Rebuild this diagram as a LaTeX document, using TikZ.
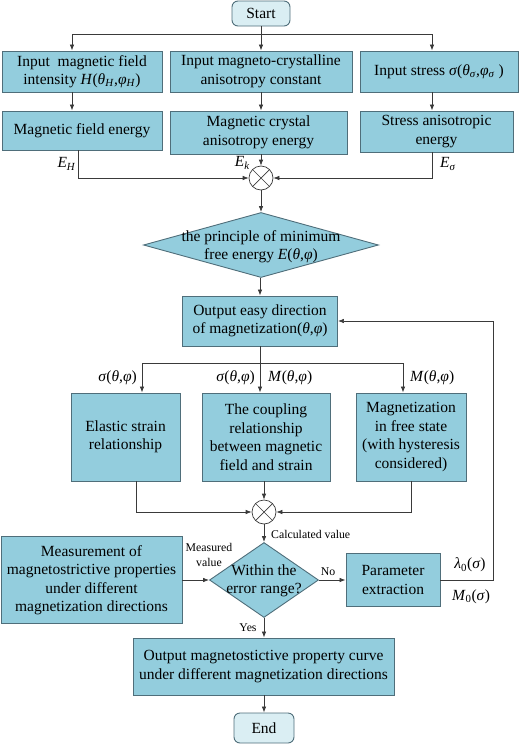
\documentclass[tikz,border=0pt]{standalone}
\usepackage{fontspec}
\setmainfont{Liberation Serif}
\usetikzlibrary{shapes.geometric,arrows.meta}
\definecolor{boxfill}{HTML}{93CDDD}
\definecolor{boxline}{HTML}{4F6E7A}
\definecolor{termfill}{HTML}{DAEEF3}
\definecolor{wire}{HTML}{3A3A3A}
\newcommand{\iv}[1]{\textit{#1}}
\begin{document}
\begin{tikzpicture}[x=1pt,y=-1pt,
  mainfont/.style={font=\fontsize{15.5}{18.5}\selectfont},
  smallfont/.style={font=\fontsize{11.8}{14.5}\selectfont},
  box/.style={draw=boxline, fill=boxfill, line width=0.9pt, inner sep=0pt, align=center, mainfont},
  term/.style={draw=boxline, fill=termfill, line width=0.9pt, inner sep=0pt, rounded corners=6pt, align=center, mainfont},
  dia/.style={diamond, draw=boxline, fill=boxfill, line width=0.9pt, inner sep=0pt},
  sz/.style 2 args={minimum width=#1pt, minimum height=#2pt},
  sum/.style={circle, draw=wire, fill=white, line width=0.7pt, minimum size=24pt, inner sep=0pt},
  wireline/.style={draw=wire, line width=0.7pt},
  arr/.style={wireline, -{Latex[length=6pt,width=4.5pt]}},
  lab/.style={inner sep=0pt, mainfont},
  slab/.style={inner sep=0pt, smallfont, align=center}]
\useasboundingbox (0,0) rectangle (520,744);

% nodes
\node[term, sz={58}{25}] (start) at (261,13.5) {Start};

\node[box, sz={160}{41}] (inA) at (82,71.5) {Input\ \ magnetic field\\intensity \iv{H}(\iv{θ}\textsubscript{\iv{H}},\iv{φ}\textsubscript{\iv{H}})};
\node[box, sz={182}{41}] (inB) at (261,71.5) {Input magneto-crystalline\\anisotropy constant};
\node[box, sz={158}{41}] (inC) at (439,71.5) {Input stress \iv{σ}(\iv{θ}\textsubscript{\iv{σ}},\iv{φ}\textsubscript{\iv{σ}}\ )};

\node[box, sz={160}{39}] (enA) at (82,130.5) {Magnetic field energy};
\node[box, sz={177}{43}] (enB) at (258.5,132.5) {Magnetic crystal\\anisotropy energy};
\node[box, sz={153}{41}] (enC) at (436.5,131.5) {Stress anisotropic\\energy};

\node[sum] (sum1) at (261,178) {};
\draw[wireline] (sum1.north west) -- (sum1.south east) (sum1.north east) -- (sum1.south west);

\node[dia, sz={235}{65}] (d1) at (261,245) {};
\node[lab, align=center] (d1t) at (261,246.5) {the principle of minimum\\free energy \iv{E}(\iv{θ},\iv{φ})};

\node[box, sz={155}{50}] (outE) at (260,321) {Output easy direction\\of magnetization(\iv{θ},\iv{φ})};

\node[box, sz={109}{88}] (elas) at (125.5,437) {Elastic strain\\relationship};
\node[box, sz={128}{88}] (coup) at (266,437) {The coupling\\relationship\\between magnetic\\field and strain};
\node[box, sz={110}{88}] (magf) at (411,437) {Magnetization\\in free state\\(with hysteresis\\considered)};

\node[sum] (sum2) at (264,512) {};
\draw[wireline] (sum2.north west) -- (sum2.south east) (sum2.north east) -- (sum2.south west);

\node[dia, sz={109}{75}] (d2) at (264,580) {};
\node[lab, align=center] (d2t) at (264,581) {Within the\\error range?};

\node[box, sz={181}{87}] (meas) at (91.5,580) {Measurement of\\magnetostrictive properties\\under different\\magnetization directions};
\node[box, sz={94}{53}] (param) at (393,580) {Parameter\\extraction};
\node[box, sz={261}{57}] (outC) at (263.5,666.5) {Output magnetostictive property curve\\under different magnetization directions};
\node[term, sz={60}{30}] (end) at (264,728) {End};

% helper coordinates
\coordinate (sj) at (261,34);
\coordinate (xA) at (72,0);
\coordinate (xC) at (432,0);
\coordinate (xB) at (261,0);
\coordinate (xAd) at (78,0);
\coordinate (br2) at (260,363);
\coordinate (xE) at (142,0);
\coordinate (xEd) at (136,0);
\coordinate (xM) at (403,0);
\coordinate (fb) at (493,580);

% connectors
\draw[wireline] (start.south) -- (sj);
\draw[arr] (sj) -| (inA.north -| xA);
\draw[arr] (sj) -| (inC.north -| xC);
\draw[arr] (sj) -- (inB.north -| sj);

\draw[arr] (inA.south -| xA) -- (enA.north -| xA);
\draw[arr] (inB.south -| xB) -- (enB.north -| xB);
\draw[arr] (inC.south -| xC) -- (enC.north -| xC);

\draw[arr] (enA.south -| xAd) |- (sum1.west);
\draw[arr] (enB.south -| sum1) -- (sum1.north);
\draw[arr] (enC.south -| xC) |- (sum1.east);

\draw[arr] (sum1.south) -- (d1.north);
\draw[arr] (d1.south -| outE) -- (outE.north);

\draw[wireline] (outE.south) -- (br2);
\draw[arr] (br2) -| (elas.north -| xE);
\draw[arr] (br2) -| (magf.north -| xM);
\draw[arr] (br2) -- (coup.north -| br2);

\draw[arr] (elas.south -| xEd) |- (sum2.west);
\draw[arr] (coup.south -| sum2) -- (sum2.north);
\draw[arr] (magf.south) |- (sum2.east);

\draw[arr] (sum2.south) -- (d2.north);
\draw[arr] (meas.east) -- (d2.west);
\draw[arr] (d2.east) -- (param.west);
\draw[arr] (param.east) -- (fb) |- (outE.east);
\draw[arr] (d2.south) -- (outC.north -| d2);
\draw[arr] (outC.south -| end) -- (end.north);

% labels
\node[lab, anchor=east] (lEH) at (76,164) {\iv{E}\textsubscript{\iv{H}}};
\node[lab, anchor=east] (lEk) at (250,163) {\iv{E}\textsubscript{\iv{k}}};
\node[lab, anchor=west] (lEs) at (440,164) {\iv{E}\textsubscript{\iv{σ}}};

\node[lab, anchor=east] (ls1) at (137,378) {\iv{σ}(\iv{θ},\iv{φ})};
\node[lab, anchor=east] (ls2) at (255,378) {\iv{σ}(\iv{θ},\iv{φ})};
\node[lab, anchor=west] (lm1) at (268,378) {\iv{M}(\iv{θ},\iv{φ})};
\node[lab, anchor=west] (lm2) at (410,378) {\iv{M}(\iv{θ},\iv{φ})};

\node[slab, anchor=west] (lcalc) at (271,534) {Calculated value};
\node[slab] (lmeas) at (209,555) {Measured\\value};
\node[slab] (lno) at (328,572) {No};
\node[slab] (lyes) at (248,628) {Yes};

\node[lab] (llam) at (470,565) {\iv{λ}\textsubscript{0}(\iv{σ})};
\node[lab] (lM0) at (471,597) {\iv{M}\textsubscript{0}(\iv{σ})};
\end{tikzpicture}
\end{document}
